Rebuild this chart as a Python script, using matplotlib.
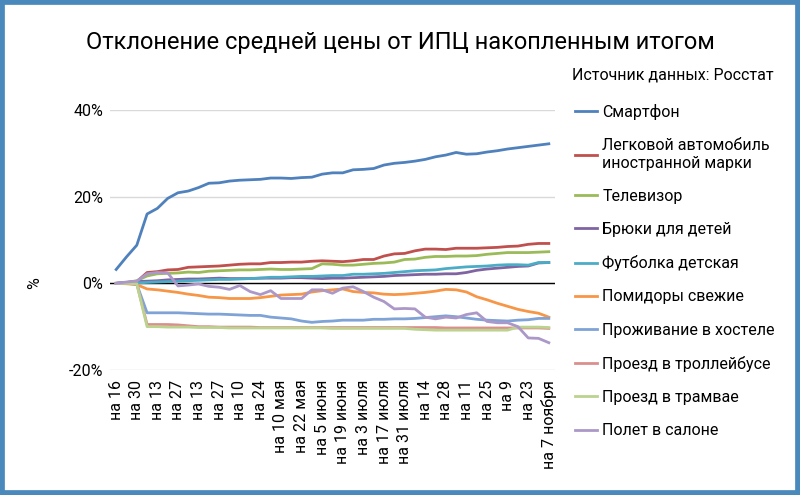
import matplotlib
matplotlib.use("Agg")
import matplotlib.pyplot as plt
from matplotlib.patches import Rectangle

plt.rcParams['font.family'] = ['Roboto', 'DejaVu Sans']

# Подписи оси X (показывается каждая вторая неделя)
tick_labels = ["на 16", "на 30", "на 13", "на 27", "на 13", "на 27", "на 10", "на 24",
               "на 10 мая", "на 22 мая", "на 5 июня", "на 19 июня", "на 3 июля",
               "на 17 июля", "на 31 июля", "на 14", "на 28", "на 11", "на 25",
               "на 9", "на 23", "на 7 ноября"]

smartphone = [3.2, 6.1, 8.8, 16.0, 17.3, 19.6, 20.9, 21.3, 22.1, 23.1, 23.2, 23.6, 23.8, 23.9,
              24.0, 24.3, 24.3, 24.2, 24.4, 24.5, 25.2, 25.5, 25.5, 26.2, 26.3, 26.5, 27.3, 27.7,
              27.9, 28.2, 28.6, 29.2, 29.6, 30.2, 29.8, 29.9, 30.3, 30.6, 31.0, 31.3, 31.6, 31.9, 32.2]
car = [0.0, 0.2, 0.4, 2.5, 2.7, 3.1, 3.2, 3.7, 3.8, 3.9, 4.0, 4.2, 4.4, 4.5, 4.5, 4.8, 4.8, 4.9,
       4.9, 5.1, 5.2, 5.1, 5.0, 5.2, 5.5, 5.5, 6.3, 6.8, 6.9, 7.5, 7.9, 7.9, 7.8, 8.1, 8.1, 8.1,
       8.2, 8.3, 8.5, 8.6, 9.0, 9.2, 9.2]
tv = [0.0, 0.2, 0.6, 1.7, 2.2, 2.3, 2.4, 2.6, 2.5, 2.8, 2.9, 3.0, 3.1, 3.1, 3.2, 3.3, 3.2, 3.2,
      3.3, 3.4, 4.5, 4.4, 4.2, 4.2, 4.4, 4.6, 4.7, 4.9, 5.5, 5.6, 6.0, 6.2, 6.2, 6.3, 6.3, 6.4,
      6.7, 6.9, 7.1, 7.1, 7.1, 7.2, 7.3]
pants = [0.0, 0.2, 0.4, 0.5, 0.6, 0.8, 0.9, 1.0, 1.0, 1.1, 1.2, 1.1, 1.1, 1.1, 1.2, 1.2, 1.2, 1.3,
         1.3, 1.2, 1.1, 1.2, 1.2, 1.3, 1.4, 1.5, 1.6, 1.8, 1.9, 2.0, 2.1, 2.1, 2.2, 2.2, 2.5, 3.0,
         3.3, 3.5, 3.7, 3.9, 4.0, 4.7, 4.8]
tshirt = [0.0, 0.1, 0.1, 0.2, 0.3, 0.4, 0.5, 0.6, 0.7, 0.8, 0.9, 0.9, 1.0, 1.1, 1.2, 1.4, 1.4, 1.5,
          1.6, 1.6, 1.7, 1.8, 1.8, 2.1, 2.1, 2.2, 2.3, 2.5, 2.7, 2.9, 3.0, 3.1, 3.4, 3.6, 3.8, 3.9,
          4.0, 4.2, 4.3, 4.3, 4.2, 4.8, 4.8]
tomato = [0.0, -0.1, -0.3, -1.3, -1.5, -1.8, -2.1, -2.5, -2.8, -3.2, -3.3, -3.5, -3.5, -3.5, -3.3,
          -3.0, -2.7, -2.6, -2.5, -2.0, -1.7, -1.5, -1.3, -1.9, -2.1, -2.2, -2.5, -2.6, -2.5, -2.3,
          -2.1, -1.8, -1.4, -1.5, -2.0, -3.1, -3.8, -4.6, -5.3, -6.0, -6.5, -6.9, -7.8]
hostel = [0.0, 0.0, -0.2, -6.8, -6.8, -6.8, -6.8, -6.9, -7.0, -7.1, -7.1, -7.2, -7.3, -7.4, -7.4,
          -7.8, -8.0, -8.2, -8.7, -9.0, -8.8, -8.7, -8.5, -8.5, -8.5, -8.3, -8.3, -8.2, -8.2, -8.1,
          -7.9, -7.7, -7.5, -7.7, -8.0, -8.3, -8.5, -8.6, -8.7, -8.5, -8.4, -8.1, -8.1]
trolley = [0.0, 0.0, -0.1, -9.5, -9.5, -9.5, -9.6, -9.8, -10.0, -10.0, -10.1, -10.1, -10.1, -10.1,
           -10.2, -10.2, -10.2, -10.2, -10.2, -10.2, -10.2, -10.2, -10.2, -10.2, -10.2, -10.2,
           -10.2, -10.2, -10.2, -10.2, -10.2, -10.2, -10.3, -10.3, -10.3, -10.3, -10.3, -10.3,
           -10.3, -10.3, -10.3, -10.3, -10.4]
tram = [0.0, 0.0, -0.1, -10.0, -10.0, -10.1, -10.1, -10.1, -10.2, -10.2, -10.2, -10.3, -10.3,
        -10.3, -10.3, -10.3, -10.3, -10.3, -10.3, -10.3, -10.3, -10.4, -10.4, -10.4, -10.4, -10.4,
        -10.4, -10.4, -10.4, -10.6, -10.7, -10.8, -10.8, -10.8, -10.8, -10.8, -10.8, -10.8,
        -10.8, -10.1, -10.1, -10.1, -10.2]
flight = [0.0, 0.3, 0.5, 2.2, 2.5, 2.4, -0.6, -0.4, -0.15, -0.7, -0.9, -1.4, -0.5, -1.9, -2.6,
          -1.7, -3.5, -3.5, -3.5, -1.5, -1.5, -2.3, -1.1, -0.8, -1.9, -3.2, -4.2, -5.9, -5.8, -5.9,
          -7.8, -8.2, -7.8, -8.0, -7.2, -6.8, -8.8, -9.1, -9.1, -10.0, -12.6, -12.7, -13.7]

series = [
    ("Смартфон", smartphone, "#4F81BD"),
    ("Легковой автомобиль\nиностранной марки", car, "#C0504D"),
    ("Телевизор", tv, "#9BBB59"),
    ("Брюки для детей", pants, "#8064A2"),
    ("Футболка детская", tshirt, "#4BACC6"),
    ("Помидоры свежие", tomato, "#F79646"),
    ("Проживание в хостеле", hostel, "#7FA3D6"),
    ("Проезд в троллейбусе", trolley, "#DA8F8D"),
    ("Проезд в трамвае", tram, "#BBD38F"),
    ("Полет в салоне", flight, "#AB98C8"),
]

fs = 11.5

fig = plt.figure(figsize=(8, 4.95), dpi=100)
ax = fig.add_axes([110 / 800, 125 / 495, 445 / 800, 260 / 495])

x = list(range(len(smartphone)))
for name, vals, col in series:
    ax.plot(x, vals, color=col, linewidth=2.0, label=name, solid_joinstyle="round")

ax.axhline(0, color="black", linewidth=1.0, zorder=1)
ax.set_ylim(-20, 40)
ax.set_xlim(-0.6, len(x) - 0.4)
ax.set_yticks([-20, 0, 20, 40])
ax.set_yticklabels(["-20%", "0%", "20%", "40%"])
ax.grid(axis="y", color="#D9D9D9", linewidth=1.0)
ax.set_axisbelow(True)
ax.set_xticks(x[::2])
ax.set_xticklabels(tick_labels, rotation=90)
ax.tick_params(axis="both", length=0, labelsize=fs, colors="black")
ax.tick_params(axis="x", pad=7)
ax.tick_params(axis="y", pad=5)
for s in ax.spines.values():
    s.set_visible(False)

fig.text(400 / 800, 1 - 42 / 495, "Отклонение средней цены от ИПЦ накопленным итогом",
         ha="center", va="center", fontsize=17)
fig.text(35 / 800, 1 - 283 / 495, "%", rotation=90, ha="center", va="center", fontsize=fs)
fig.text(572 / 800, 1 - 75 / 495, "Источник данных: Росстат", ha="left", va="center", fontsize=fs)

fig.legend(loc="upper left", bbox_to_anchor=(575 / 800, 1 - 104 / 495), frameon=False,
           fontsize=fs, handlelength=1.4, handletextpad=0.3, labelspacing=1.14,
           borderaxespad=0, borderpad=0)

fig.add_artist(Rectangle((0, 0), 1, 1, transform=fig.transFigure, fill=False,
                         edgecolor="#4A89BC", linewidth=7))

fig.savefig("out.png", dpi=100)
